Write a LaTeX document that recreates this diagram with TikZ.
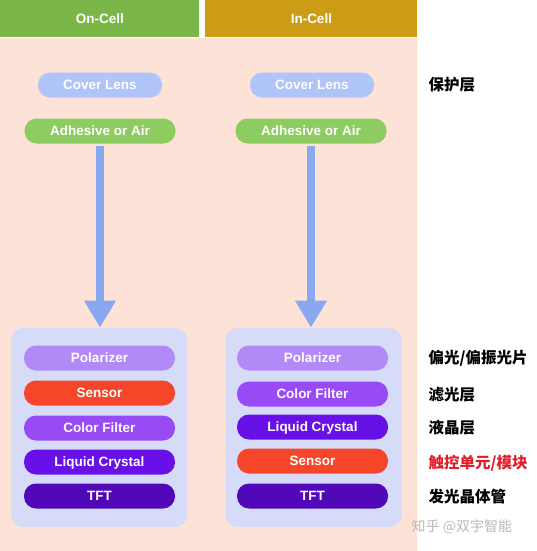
\documentclass[tikz,border=0pt]{standalone}
\usepackage{fontspec}
\setmainfont{Liberation Sans}
\newfontfamily\cjk{Noto Sans CJK SC}
\usetikzlibrary{arrows.meta}

\definecolor{bgpink}{RGB}{253,226,216}
\definecolor{hdgreen}{RGB}{122,183,72}
\definecolor{hdgold}{RGB}{204,156,20}
\definecolor{stackbg}{RGB}{214,220,248}
\definecolor{lensblue}{RGB}{175,196,248}
\definecolor{gluegreen}{RGB}{140,204,96}
\definecolor{polar}{RGB}{178,138,248}
\definecolor{sensor}{RGB}{245,70,42}
\definecolor{cfilter}{RGB}{152,74,245}
\definecolor{lcrystal}{RGB}{104,16,232}
\definecolor{tft}{RGB}{80,8,184}
\definecolor{arrowblue}{RGB}{138,168,240}
\definecolor{touchred}{RGB}{226,30,40}

\tikzset{
	pill/.style={rounded corners=12pt, minimum width=151pt, minimum height=25pt, inner sep=0pt,
		text height=9.7pt, text depth=0pt,
		text=white, font=\fontsize{13.5}{14}\selectfont\bfseries},
	header/.style={minimum height=37pt, inner sep=0pt, anchor=north west,
		text=white, font=\fontsize{13.5}{14}\selectfont\bfseries},
	stack/.style={fill=stackbg, rounded corners=12pt, minimum width=176pt, minimum height=199pt, inner sep=0pt},
	cnlabel/.style={anchor=west, font=\cjk\fontsize{15.5}{16}\selectfont\bfseries},
	downarrow/.style={draw=arrowblue, line width=8pt, shorten <=2pt, -{Triangle[width=30pt,length=27pt]}}}
\tikzset{every picture/.style={line width=0.75pt}}

\begin{document}
\begin{tikzpicture}[x=1pt,y=1pt,yscale=-1,xscale=1]
	\useasboundingbox (0,0) rectangle (537,551);

	%Shape: Background
	\fill [bgpink] (0,38) rectangle (417,551);

	%Header boxes
	\node [header, fill=hdgreen, minimum width=199pt] (hdon) at (0,0) {On-Cell};
	\node [header, fill=hdgold, minimum width=212pt] (hdin) at (205,0) {In-Cell};

	%Stack boxes
	\node [stack] (stackL) at (99,427.5) {};
	\node [stack] (stackR) at (313.5,427.5) {};

	%Top layers, On-Cell
	\node [pill, fill=lensblue, minimum width=124pt] (lensL) at (100,85) {Cover Lens};
	\node [pill, fill=gluegreen] (glueL) at (100,131) {Adhesive or Air};
	%Top layers, In-Cell
	\node [pill, fill=lensblue, minimum width=124pt] (lensR) at (312,85) {Cover Lens};
	\node [pill, fill=gluegreen] (glueR) at (311,131) {Adhesive or Air};

	%Arrows
	\draw [downarrow] (glueL.south) -- (glueL.south |- stackL.north);
	\draw [downarrow] (glueR.south) -- (glueR.south |- stackR.north);

	%Layers, On-Cell
	\node [pill, fill=polar] (polL) at (99.5,358) {Polarizer};
	\node [pill, fill=sensor] (senL) at (99.5,393) {Sensor};
	\node [pill, fill=cfilter] (cfL) at (99.5,428) {Color Filter};
	\node [pill, fill=lcrystal] (lcL) at (99.5,462) {Liquid Crystal};
	\node [pill, fill=tft] (tftL) at (99.5,496) {TFT};
	%Layers, In-Cell
	\node [pill, fill=polar] (polR) at (312.5,358) {Polarizer};
	\node [pill, fill=cfilter] (cfR) at (312.5,394) {Color Filter};
	\node [pill, fill=lcrystal] (lcR) at (312.5,427) {Liquid Crystal};
	\node [pill, fill=sensor] (senR) at (312.5,461) {Sensor};
	\node [pill, fill=tft] (tftR) at (312.5,496) {TFT};

	% Text Node
	\node [cnlabel] (cnlens) at (425,85) {保护层};
	% Text Node
	\node [cnlabel] (cnpol) at (425,358) {偏光/偏振光片};
	% Text Node
	\node [cnlabel] (cncf) at (425,395) {滤光层};
	% Text Node
	\node [cnlabel] (cnlc) at (425,428) {液晶层};
	% Text Node
	\node [cnlabel, text=touchred] (cnsen) at (425,463) {触控单元/模块};
	% Text Node
	\node [cnlabel] (cntft) at (425,497) {发光晶体管};
	% Text Node
	\node [anchor=west, text=black!28, font=\cjk\fontsize{14}{14}\selectfont] (mark) at (408,527) {知乎 @双宇智能};

\end{tikzpicture}
\end{document}
